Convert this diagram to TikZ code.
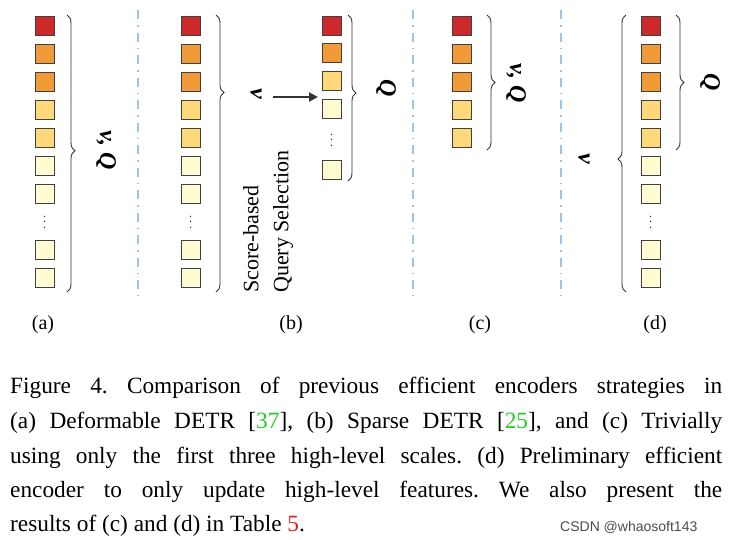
\documentclass[tikz,border=0pt]{standalone}
\usepackage{fontspec}
\setmainfont{Liberation Serif}
\newfontfamily\wmfont{Liberation Sans}
\usetikzlibrary{decorations.pathreplacing,arrows.meta}
\definecolor{cR}{HTML}{CC2A2A}
\definecolor{cO}{HTML}{F09A38}
\definecolor{cY}{HTML}{FFD87A}
\definecolor{cP}{HTML}{FFFCD2}
\definecolor{cB}{HTML}{9CC4E8}
\definecolor{cG}{HTML}{22CC22}
\definecolor{cRed}{HTML}{E02020}
\frenchspacing
\begin{document}
\begin{tikzpicture}[x=1pt,y=-1pt,
  sq/.style={draw=black!75,line width=1.3pt,minimum size=19pt,inner sep=0pt},
  br/.style={decorate,decoration={brace,amplitude=8pt},line width=0.9pt,draw=black!80},
  sep/.style={draw=cB,line width=1.5pt,dash pattern=on 9pt off 6pt on 1.5pt off 6pt},
  lab/.style={font=\fontsize{20}{22}\selectfont},
  vq/.style={font=\fontsize{24}{26}\selectfont\bfseries\itshape,rotate=-90},
  captxt/.style={anchor=base west,font=\fontsize{23.3}{26}\selectfont,inner sep=0pt}]
\useasboundingbox (0,0) rectangle (734,539);
\foreach \c/\x in {a/45,b/191,d/651}{
  \foreach \i/\col in {1/cR,2/cO,3/cO,4/cY,5/cY,6/cP,7/cP,9/cP,10/cP}{
    \node[sq,fill=\col] (\c\i) at (\x,{26+28*(\i-1)}) {};}
  \node[font=\large,rotate=90] (\c8) at (\x,{26+28*7}) {$\cdots$};
}
\foreach \i/\col/\y in {1/cR/26,2/cO/53,3/cY/81,4/cP/109,6/cP/170}{
  \node[sq,fill=\col] (q\i) at (332,\y) {};}
\node[font=\large,rotate=90] (q5) at (332,140) {$\cdots$};
\foreach \i/\col in {1/cR,2/cO,3/cO,4/cY,5/cY}{
  \node[sq,fill=\col] (c\i) at (462,{26+28*(\i-1)}) {};}
\coordinate (s1t) at (138,10); \coordinate (s1b) at (138,296);
\coordinate (s2t) at (413,10); \coordinate (s2b) at (413,296);
\coordinate (s3t) at (561,10); \coordinate (s3b) at (561,296);
\draw[sep] (s1t) -- (s1b); \draw[sep] (s2t) -- (s2b); \draw[sep] (s3t) -- (s3b);
\draw[br,decoration={aspect=0.49}] (67,15) -- (67,292);
\node[vq] (vqa) at (106,150) {v, Q};
\draw[br,decoration={aspect=0.28}] (216,15) -- (216,292);
\node[vq] (vb) at (256,94) {v};
\draw[br,decoration={aspect=0.47}] (348,15) -- (348,181);
\node[vq] (qb) at (386,88) {Q};
\draw[br,decoration={aspect=0.5}] (487,15) -- (487,150);
\node[vq] (vqc) at (516,83) {v, Q};
\draw[br,decoration={aspect=0.5}] (676,15) -- (676,150);
\node[vq] (qd) at (710,82) {Q};
\draw[br,decoration={aspect=0.48}] (626,292) -- (626,15);
\node[vq] (vd) at (584,159) {v};
\coordinate (arrS) at (273,97);
\coordinate (arrE) at (318,97);
\draw[-{Triangle[length=9pt,width=9pt]},line width=2.2pt,black!80] (arrS) -- (arrE);
\node[rotate=90,anchor=north west,align=left,font=\fontsize{22}{30}\selectfont,inner sep=0pt] (sqs) at (243,293) {Score-based\\Query Selection};
\node[lab] (la) at (43,325) {(a)};
\node[lab] (lb) at (291,325) {(b)};
\node[lab] (lc) at (480,325) {(c)};
\node[lab] (ld) at (655,325) {(d)};
\node[captxt] (c1) at (10,393) {\makebox[712pt][s]{Figure 4. Comparison of previous efficient encoders strategies in}};
\node[captxt] (c2) at (10,428) {\makebox[712pt][s]{(a) Deformable DETR [\textcolor{cG}{37}], (b) Sparse DETR [\textcolor{cG}{25}], and (c) Trivially}};
\node[captxt] (c3) at (10,463) {\makebox[712pt][s]{using only the first three high-level scales. (d) Preliminary efficient}};
\node[captxt] (c4) at (10,497) {\makebox[712pt][s]{encoder to only update high-level features. We also present the}};
\node[captxt] (c5) at (10,531) {results of (c) and (d) in Table \textcolor{cRed}{5}.};
\node[anchor=base west,font=\wmfont\fontsize{14}{16}\selectfont,text=black!70,inner sep=0pt] (wm) at (560,531) {CSDN @whaosoft143};
\end{tikzpicture}
\end{document}
